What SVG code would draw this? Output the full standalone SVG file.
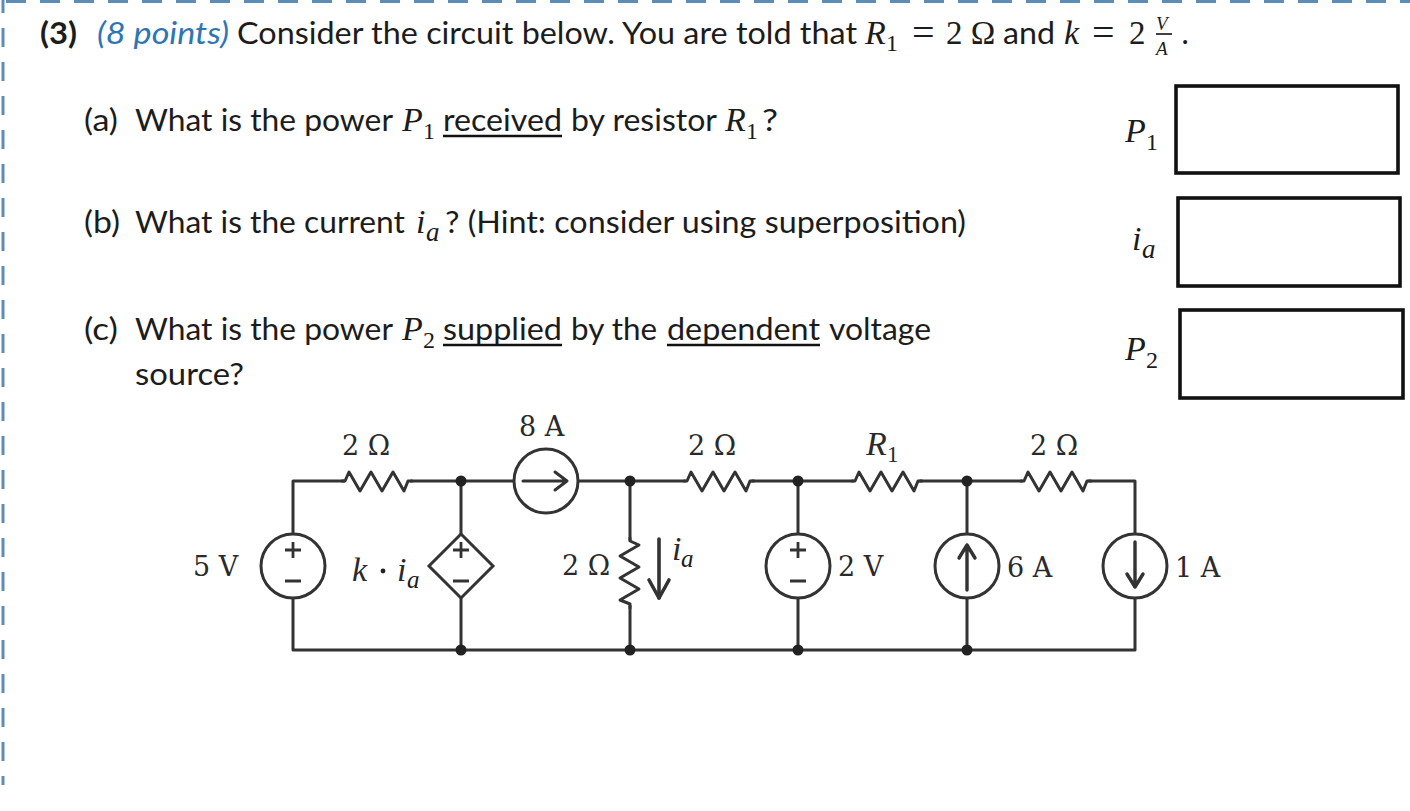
<svg xmlns="http://www.w3.org/2000/svg" width="1410" height="811" viewBox="0 0 1410 811">
<style>
text{fill:#1c1c1c}
.t{font-family:"Lato","Liberation Sans",sans-serif;font-size:31px}
.m{font-family:"Liberation Serif",serif;font-size:34px;font-style:italic}
.n{font-family:"Liberation Serif",serif;font-size:33px}
.q{font-family:"Liberation Serif",serif;font-size:40px}
.s{font-family:"Liberation Serif",serif;font-size:24px}
.a{font-family:"Liberation Serif",serif;font-size:27px;font-style:italic}
.c{font-family:"DejaVu Serif","Liberation Serif",serif;font-size:27px;fill:#2a2a2a}
.ci{font-family:"Liberation Serif",serif;font-size:34px;font-style:italic;fill:#2a2a2a}
.cs{font-family:"Liberation Serif",serif;font-size:23px;fill:#2a2a2a}
.w{fill:none;stroke:#333;stroke-width:3;stroke-linejoin:round;stroke-linecap:round}
.e{fill:#fff;stroke:#333;stroke-width:3}
.d{fill:#222}
.b{fill:none;stroke:#111;stroke-width:3.6}
.u{stroke:#111;stroke-width:2.6}
.p{fill:none;stroke:#333;stroke-width:2.8}
</style>
<defs>
<path id="rh" class="w" d="M0 0H3L7 -9L18 10L29 -9L40 10L51 -9L62 10L66 0H70"/>
</defs>
<g id="border" fill="none" stroke="#5b8db8" stroke-width="3">
<path d="M0 1.500H1410" stroke-dasharray="20 14" stroke-dashoffset="-6"/>
<path d="M3 0V785" stroke-dasharray="19 15" stroke-dashoffset="-28"/>
</g>
<g id="question">
<text class="t" x="40" y="44" textLength="37" lengthAdjust="spacingAndGlyphs" font-weight="700">(3)</text>
<text class="t" x="97" y="44" textLength="132" lengthAdjust="spacingAndGlyphs" font-style="italic" style="fill:#2e75b6">(8 points)</text>
<text class="t" x="237" y="44" textLength="620" lengthAdjust="spacingAndGlyphs">Consider the circuit below. You are told that</text>
<text class="m" x="865" y="44">R</text><text class="s" x="886" y="51">1</text>
<text class="q" x="912" y="46">=</text>
<text class="n" x="946" y="44">2 Ω</text>
<text class="t" x="1003" y="44" textLength="52" lengthAdjust="spacingAndGlyphs">and</text>
<text class="m" x="1064" y="44">k</text>
<text class="q" x="1092" y="46">=</text>
<text class="n" x="1129" y="44">2</text>
<text class="m" x="1156" y="30" style="font-size:19px">V</text>
<path class="u" d="M1156 34H1172" style="stroke-width:1.600"/>
<text class="m" x="1156" y="55" style="font-size:19px">A</text>
<text class="n" x="1181" y="44">.</text>
</g>
<g id="part-a">
<text class="t" x="84" y="131" textLength="34" lengthAdjust="spacingAndGlyphs">(a)</text>
<text class="t" x="135" y="131" textLength="258" lengthAdjust="spacingAndGlyphs">What is the power</text>
<text class="m" x="402" y="131">P</text><text class="s" x="423" y="139">1</text>
<text class="t" x="443" y="131" textLength="119" lengthAdjust="spacingAndGlyphs">received</text>
<path class="u" d="M443 136H562"/>
<text class="t" x="571" y="131" textLength="146" lengthAdjust="spacingAndGlyphs">by resistor</text>
<text class="m" x="725" y="131">R</text><text class="s" x="746" y="139">1</text>
<text class="t" x="762" y="131" textLength="16" lengthAdjust="spacingAndGlyphs">?</text>
</g>
<g id="part-b">
<text class="t" x="84" y="233" textLength="36" lengthAdjust="spacingAndGlyphs">(b)</text>
<text class="t" x="135" y="233" textLength="270" lengthAdjust="spacingAndGlyphs">What is the current</text>
<text class="m" x="416" y="233">i</text><text class="a" x="426" y="241">a</text>
<text class="t" x="445" y="233" textLength="521" lengthAdjust="spacingAndGlyphs">? (Hint: consider using superposition)</text>
</g>
<g id="part-c">
<text class="t" x="84" y="340" textLength="34" lengthAdjust="spacingAndGlyphs">(c)</text>
<text class="t" x="135" y="340" textLength="258" lengthAdjust="spacingAndGlyphs">What is the power</text>
<text class="m" x="402" y="340">P</text><text class="s" x="423" y="348">2</text>
<text class="t" x="443" y="340" textLength="119" lengthAdjust="spacingAndGlyphs">supplied</text>
<path class="u" d="M443 345H562"/>
<text class="t" x="571" y="340" textLength="86" lengthAdjust="spacingAndGlyphs">by the</text>
<text class="t" x="667" y="340" textLength="153" lengthAdjust="spacingAndGlyphs">dependent</text>
<path class="u" d="M667 345H820"/>
<text class="t" x="829" y="340" textLength="102" lengthAdjust="spacingAndGlyphs">voltage</text>
<text class="t" x="135" y="385" textLength="109" lengthAdjust="spacingAndGlyphs">source?</text>
</g>
<g id="answer-p1">
<text class="m" x="1125" y="142">P</text><text class="s" x="1146" y="150">1</text>
<rect class="b" x="1176" y="86" width="222" height="87"/>
</g>
<g id="answer-ia">
<text class="m" x="1132" y="250">i</text><text class="a" x="1142" y="258">a</text>
<rect class="b" x="1178" y="198" width="222" height="88"/>
</g>
<g id="answer-p2">
<text class="m" x="1125" y="360">P</text><text class="s" x="1146" y="368">2</text>
<rect class="b" x="1180" y="310" width="223" height="88"/>
</g>
<g id="connectors">
<path class="w" d="M293 534V481H344"/>
<path class="w" d="M293 598V650H1135V598"/>
<path class="w" d="M411 481H514"/>
<path class="w" d="M578 481H685"/>
<path class="w" d="M752 481H853"/>
<path class="w" d="M920 481H1022"/>
<path class="w" d="M1089 481H1135V534"/>
<path class="w" d="M461 481V534M461 598V650"/>
<path class="w" d="M630 481V540M630 606V650"/>
<path class="w" d="M798 481V534M798 598V650"/>
<path class="w" d="M967 481V534M967 598V650"/>
</g>
<g id="junctions">
<circle class="d" cx="461" cy="481" r="5.500"/><circle class="d" cx="630" cy="481" r="5.500"/><circle class="d" cx="798" cy="481" r="5.500"/><circle class="d" cx="967" cy="481" r="5.500"/>
<circle class="d" cx="461" cy="650" r="5.500"/><circle class="d" cx="630" cy="650" r="5.500"/><circle class="d" cx="798" cy="650" r="5.500"/><circle class="d" cx="967" cy="650" r="5.500"/>
</g>
<g id="r-left"><use href="#rh" x="342" y="481"/><text class="c" x="342" y="455">2 Ω</text></g>
<g id="r-mid"><use href="#rh" x="684" y="481"/><text class="c" x="688" y="455">2 Ω</text></g>
<g id="r-1"><use href="#rh" x="852" y="481"/><text class="ci" x="866" y="455">R</text><text class="cs" x="887" y="462">1</text></g>
<g id="r-right"><use href="#rh" x="1021" y="481"/><text class="c" x="1030" y="455">2 Ω</text></g>
<g id="r-shunt">
<use href="#rh" transform="translate(630 538) rotate(90)"/>
<text class="c" x="562" y="575">2 Ω</text>
<path class="w" d="M659 539V598" style="stroke-width:3.600"/>
<path class="w" d="M649 580L659 598L669 580" style="stroke-width:3.600"/>
<text class="ci" x="672" y="560">i</text><text class="a" x="681" y="567" style="font-size:25px">a</text>
</g>
<g id="src-5v">
<circle class="e" cx="293" cy="566" r="32"/>
<path class="p" d="M285 550H301M293 542V558M285 581H301"/>
<text class="c" x="193" y="576">5 V</text>
</g>
<g id="src-dep">
<path class="e" d="M461 534L493 566L461 598L429 566Z"/>
<path class="p" d="M453 550H469M461 542V558M453 581H469"/>
<text class="ci" x="352" y="581">k</text><circle class="d" cx="383" cy="571" r="2.400"/>
<text class="ci" x="397" y="581">i</text><text class="a" x="407" y="588" style="font-size:25px">a</text>
</g>
<g id="src-8a">
<circle class="e" cx="546" cy="481" r="32"/>
<path class="w" d="M523 481H567M555 472L567 481L555 490"/>
<text class="c" x="519" y="436">8 A</text>
</g>
<g id="src-2v">
<circle class="e" cx="798" cy="566" r="32"/>
<path class="p" d="M790 550H806M798 542V558M790 581H806"/>
<text class="c" x="838" y="576">2 V</text>
</g>
<g id="src-6a">
<circle class="e" cx="967" cy="566" r="32"/>
<path class="w" d="M967 590V545M959 558L967 545L975 558" style="stroke-width:3.400"/>
<text class="c" x="1007" y="577">6 A</text>
</g>
<g id="src-1a">
<circle class="e" cx="1135" cy="566" r="32"/>
<path class="w" d="M1135 542V587M1127 574L1135 587L1143 574" style="stroke-width:3.400"/>
<text class="c" x="1175" y="577">1 A</text>
</g>
</svg>
